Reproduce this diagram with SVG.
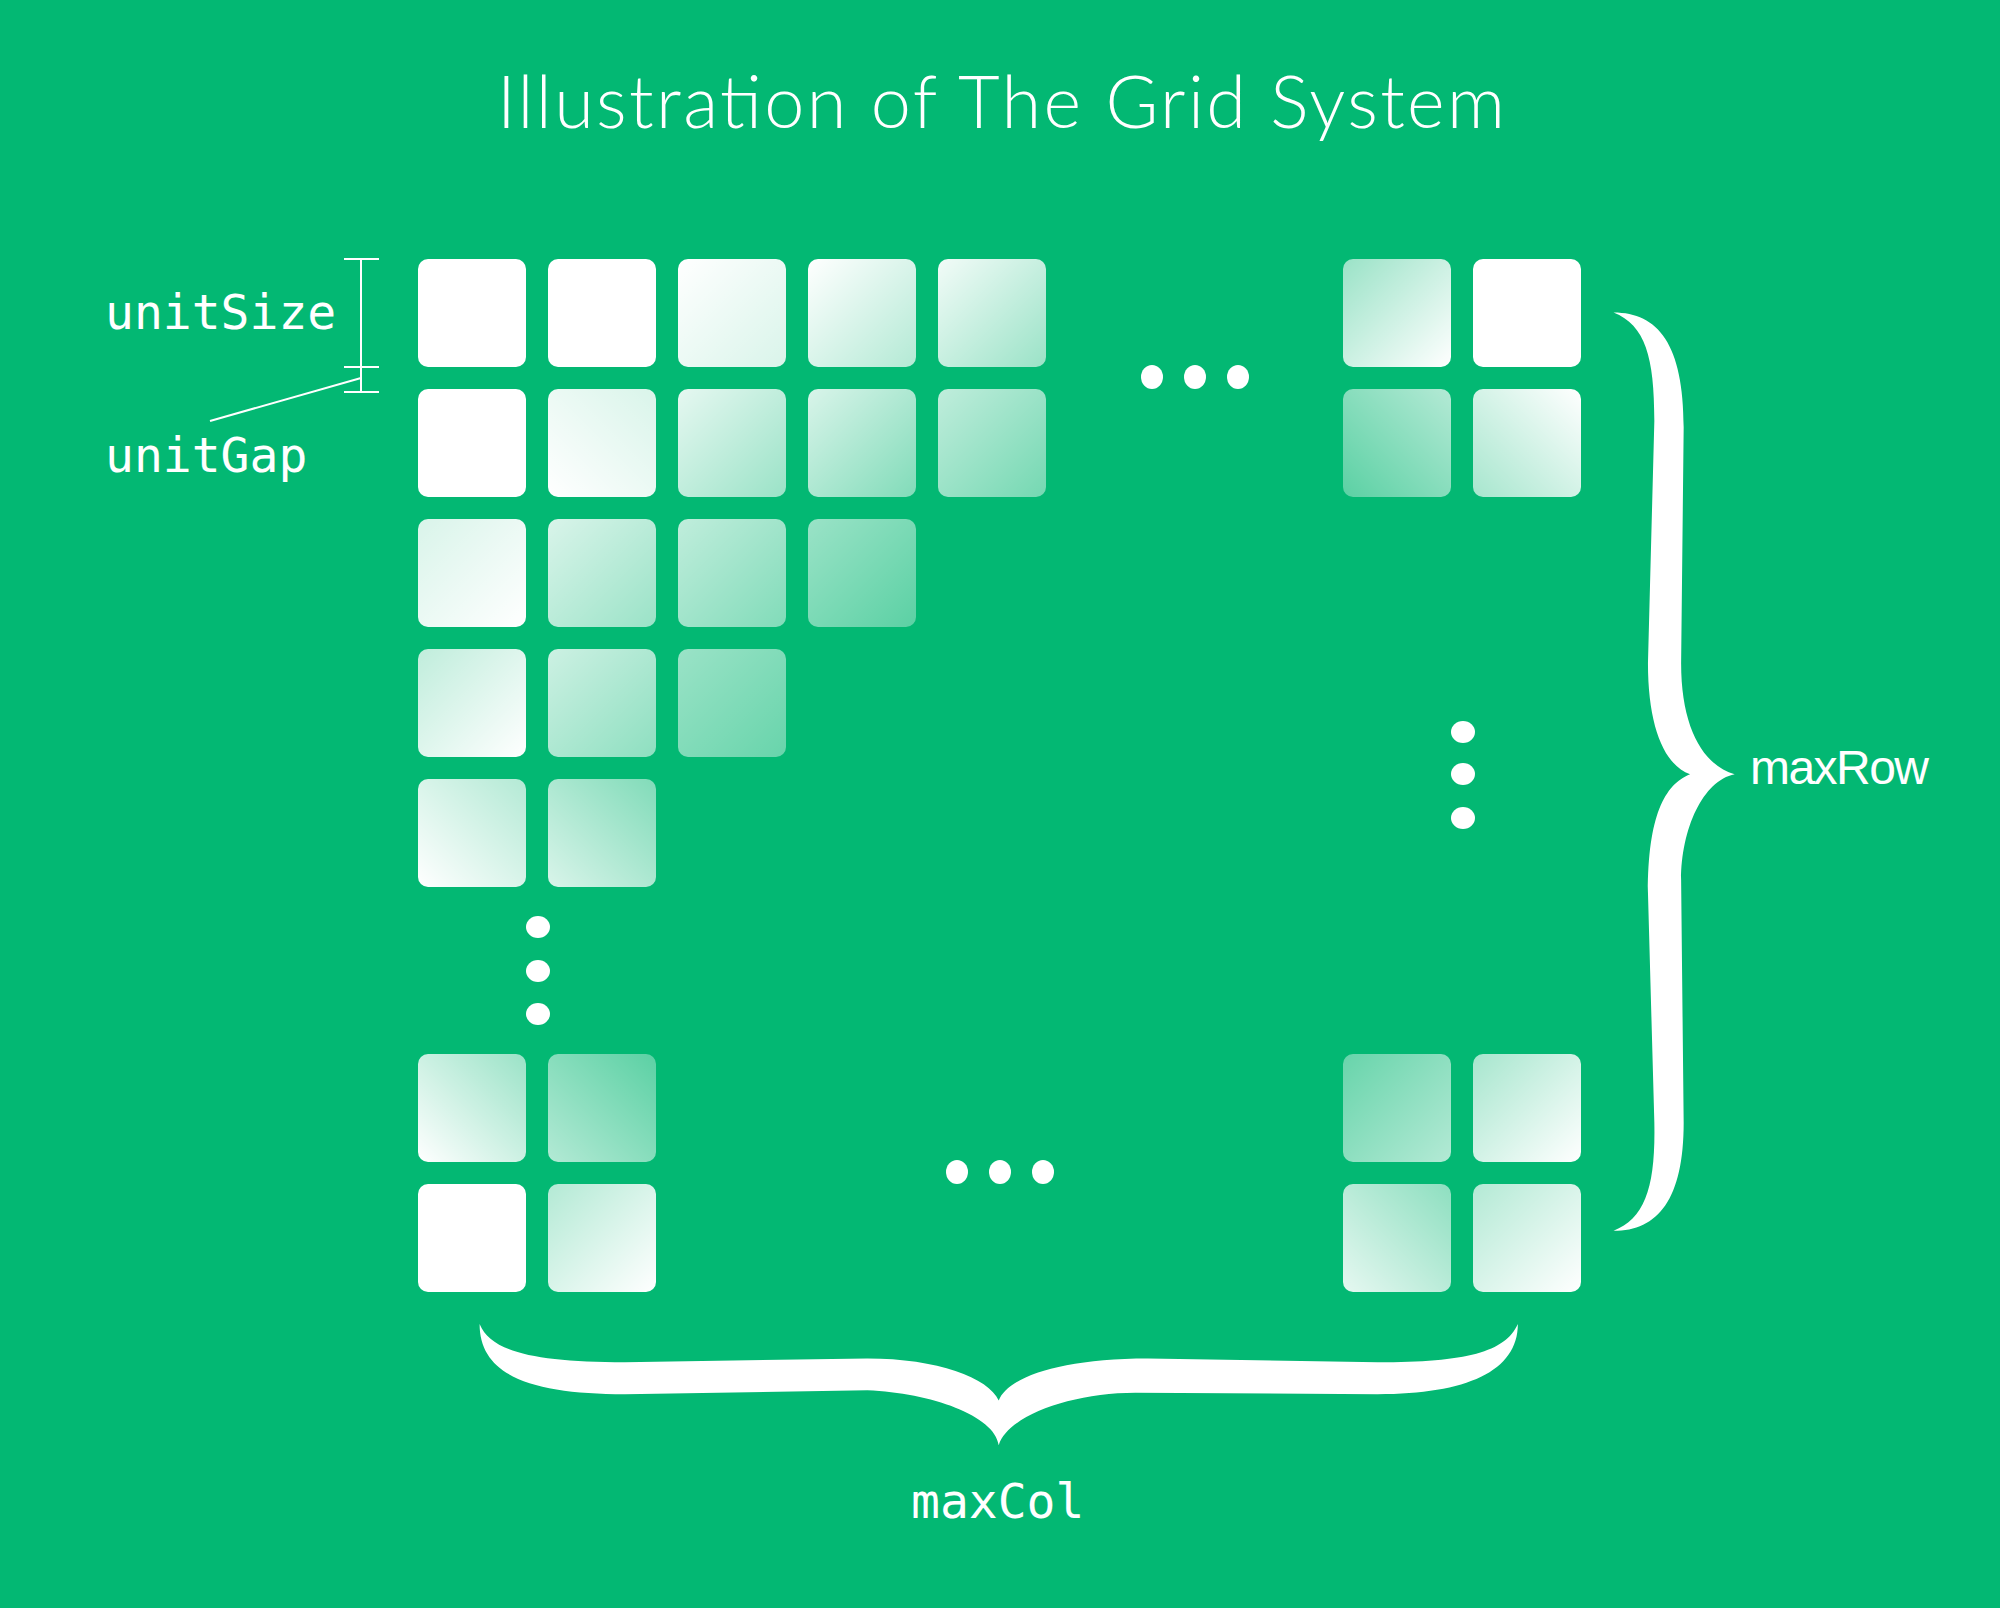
<svg xmlns="http://www.w3.org/2000/svg" width="2000" height="1608" viewBox="0 0 2000 1608">
<style>
.mono{font-family:"DejaVu Sans Mono","Liberation Mono",monospace;font-size:48px;fill:#fff}
.dot{fill:#fff}
.ln{stroke:#fff;stroke-width:2;fill:none}
</style>
<defs>
<linearGradient id="g02" x1="0" y1="0" x2="1" y2="1"><stop offset="0" stop-color="#fff"/><stop offset="1" stop-color="#fff" stop-opacity="0.85"/></linearGradient>
<linearGradient id="g03" x1="0" y1="0" x2="1" y2="1"><stop offset="0" stop-color="#fff"/><stop offset="1" stop-color="#fff" stop-opacity="0.7"/></linearGradient>
<linearGradient id="g04" x1="0" y1="0" x2="1" y2="1"><stop offset="0" stop-color="#fff" stop-opacity="0.95"/><stop offset="1" stop-color="#fff" stop-opacity="0.6"/></linearGradient>
<linearGradient id="g05" x1="1" y1="1" x2="0" y2="0"><stop offset="0" stop-color="#fff"/><stop offset="1" stop-color="#fff" stop-opacity="0.6"/></linearGradient>
<linearGradient id="g11" x1="0" y1="1" x2="1" y2="0"><stop offset="0" stop-color="#fff"/><stop offset="1" stop-color="#fff" stop-opacity="0.85"/></linearGradient>
<linearGradient id="g12" x1="0" y1="0" x2="1" y2="1"><stop offset="0" stop-color="#fff" stop-opacity="0.9"/><stop offset="1" stop-color="#fff" stop-opacity="0.6"/></linearGradient>
<linearGradient id="g13" x1="0" y1="0" x2="1" y2="1"><stop offset="0" stop-color="#fff" stop-opacity="0.85"/><stop offset="1" stop-color="#fff" stop-opacity="0.5"/></linearGradient>
<linearGradient id="g14" x1="0" y1="0" x2="1" y2="1"><stop offset="0" stop-color="#fff" stop-opacity="0.75"/><stop offset="1" stop-color="#fff" stop-opacity="0.45"/></linearGradient>
<linearGradient id="g15" x1="1" y1="0" x2="0" y2="1"><stop offset="0" stop-color="#fff" stop-opacity="0.7"/><stop offset="1" stop-color="#fff" stop-opacity="0.35"/></linearGradient>
<linearGradient id="g16" x1="1" y1="0" x2="0" y2="1"><stop offset="0" stop-color="#fff"/><stop offset="1" stop-color="#fff" stop-opacity="0.65"/></linearGradient>
<linearGradient id="g20" x1="1" y1="1" x2="0" y2="0"><stop offset="0" stop-color="#fff"/><stop offset="1" stop-color="#fff" stop-opacity="0.85"/></linearGradient>
<linearGradient id="g21" x1="0" y1="0" x2="1" y2="1"><stop offset="0" stop-color="#fff" stop-opacity="0.85"/><stop offset="1" stop-color="#fff" stop-opacity="0.6"/></linearGradient>
<linearGradient id="g22" x1="0" y1="0" x2="1" y2="1"><stop offset="0" stop-color="#fff" stop-opacity="0.75"/><stop offset="1" stop-color="#fff" stop-opacity="0.5"/></linearGradient>
<linearGradient id="g23" x1="0" y1="0" x2="1" y2="1"><stop offset="0" stop-color="#fff" stop-opacity="0.6"/><stop offset="1" stop-color="#fff" stop-opacity="0.35"/></linearGradient>
<linearGradient id="g30" x1="1" y1="1" x2="0" y2="0"><stop offset="0" stop-color="#fff"/><stop offset="1" stop-color="#fff" stop-opacity="0.75"/></linearGradient>
<linearGradient id="g31" x1="0" y1="0" x2="1" y2="1"><stop offset="0" stop-color="#fff" stop-opacity="0.8"/><stop offset="1" stop-color="#fff" stop-opacity="0.55"/></linearGradient>
<linearGradient id="g32" x1="0" y1="0" x2="1" y2="1"><stop offset="0" stop-color="#fff" stop-opacity="0.6"/><stop offset="1" stop-color="#fff" stop-opacity="0.4"/></linearGradient>
<linearGradient id="g40" x1="0" y1="1" x2="1" y2="0"><stop offset="0" stop-color="#fff"/><stop offset="1" stop-color="#fff" stop-opacity="0.7"/></linearGradient>
<linearGradient id="g41" x1="0" y1="1" x2="1" y2="0"><stop offset="0" stop-color="#fff" stop-opacity="0.85"/><stop offset="1" stop-color="#fff" stop-opacity="0.5"/></linearGradient>
<linearGradient id="g50" x1="0" y1="1" x2="1" y2="0"><stop offset="0" stop-color="#fff"/><stop offset="1" stop-color="#fff" stop-opacity="0.6"/></linearGradient>
<linearGradient id="g51" x1="0" y1="1" x2="1" y2="0"><stop offset="0" stop-color="#fff" stop-opacity="0.7"/><stop offset="1" stop-color="#fff" stop-opacity="0.35"/></linearGradient>
<linearGradient id="g55" x1="1" y1="1" x2="0" y2="0"><stop offset="0" stop-color="#fff" stop-opacity="0.7"/><stop offset="1" stop-color="#fff" stop-opacity="0.4"/></linearGradient>
<linearGradient id="g56" x1="1" y1="1" x2="0" y2="0"><stop offset="0" stop-color="#fff"/><stop offset="1" stop-color="#fff" stop-opacity="0.65"/></linearGradient>
<linearGradient id="g61" x1="1" y1="1" x2="0" y2="0"><stop offset="0" stop-color="#fff"/><stop offset="1" stop-color="#fff" stop-opacity="0.7"/></linearGradient>
<linearGradient id="g65" x1="0" y1="1" x2="1" y2="0"><stop offset="0" stop-color="#fff" stop-opacity="0.9"/><stop offset="1" stop-color="#fff" stop-opacity="0.55"/></linearGradient>
</defs>
<rect width="2000" height="1608" fill="#03b873"/>
<text x="1001" y="128" text-anchor="middle" font-family="Lato, 'Open Sans', sans-serif" font-weight="300" font-size="72" fill="#fff" textLength="1008">Illustration of The Grid System</text>
<g id="grid">
<rect x="418" y="259" width="108" height="108" rx="10" fill="#fff"/>
<rect x="548" y="259" width="108" height="108" rx="10" fill="#fff"/>
<rect x="678" y="259" width="108" height="108" rx="10" fill="url(#g02)"/>
<rect x="808" y="259" width="108" height="108" rx="10" fill="url(#g03)"/>
<rect x="938" y="259" width="108" height="108" rx="10" fill="url(#g04)"/>
<rect x="1343" y="259" width="108" height="108" rx="10" fill="url(#g05)"/>
<rect x="1473" y="259" width="108" height="108" rx="10" fill="#fff"/>
<rect x="418" y="389" width="108" height="108" rx="10" fill="#fff"/>
<rect x="548" y="389" width="108" height="108" rx="10" fill="url(#g11)"/>
<rect x="678" y="389" width="108" height="108" rx="10" fill="url(#g12)"/>
<rect x="808" y="389" width="108" height="108" rx="10" fill="url(#g13)"/>
<rect x="938" y="389" width="108" height="108" rx="10" fill="url(#g14)"/>
<rect x="1343" y="389" width="108" height="108" rx="10" fill="url(#g15)"/>
<rect x="1473" y="389" width="108" height="108" rx="10" fill="url(#g16)"/>
<rect x="418" y="519" width="108" height="108" rx="10" fill="url(#g20)"/>
<rect x="548" y="519" width="108" height="108" rx="10" fill="url(#g21)"/>
<rect x="678" y="519" width="108" height="108" rx="10" fill="url(#g22)"/>
<rect x="808" y="519" width="108" height="108" rx="10" fill="url(#g23)"/>
<rect x="418" y="649" width="108" height="108" rx="10" fill="url(#g30)"/>
<rect x="548" y="649" width="108" height="108" rx="10" fill="url(#g31)"/>
<rect x="678" y="649" width="108" height="108" rx="10" fill="url(#g32)"/>
<rect x="418" y="779" width="108" height="108" rx="10" fill="url(#g40)"/>
<rect x="548" y="779" width="108" height="108" rx="10" fill="url(#g41)"/>
<rect x="418" y="1054" width="108" height="108" rx="10" fill="url(#g50)"/>
<rect x="548" y="1054" width="108" height="108" rx="10" fill="url(#g51)"/>
<rect x="1343" y="1054" width="108" height="108" rx="10" fill="url(#g55)"/>
<rect x="1473" y="1054" width="108" height="108" rx="10" fill="url(#g56)"/>
<rect x="418" y="1184" width="108" height="108" rx="10" fill="#fff"/>
<rect x="548" y="1184" width="108" height="108" rx="10" fill="url(#g61)"/>
<rect x="1343" y="1184" width="108" height="108" rx="10" fill="url(#g65)"/>
<rect x="1473" y="1184" width="108" height="108" rx="10" fill="url(#g61)"/>
</g>
<g id="dots">
<ellipse class="dot" cx="1152" cy="377" rx="11" ry="12"/><ellipse class="dot" cx="1195" cy="377" rx="11" ry="12"/><ellipse class="dot" cx="1238" cy="377" rx="11" ry="12"/>
<ellipse class="dot" cx="1463" cy="732" rx="12" ry="11"/><ellipse class="dot" cx="1463" cy="774" rx="12" ry="11"/><ellipse class="dot" cx="1463" cy="818" rx="12" ry="11"/>
<ellipse class="dot" cx="538" cy="927" rx="12" ry="11"/><ellipse class="dot" cx="538" cy="971" rx="12" ry="11"/><ellipse class="dot" cx="538" cy="1014" rx="12" ry="11"/>
<ellipse class="dot" cx="957" cy="1172" rx="11" ry="12"/><ellipse class="dot" cx="1000" cy="1172" rx="11" ry="12"/><ellipse class="dot" cx="1043" cy="1172" rx="11" ry="12"/>
</g>
<g id="connectors">
<path class="ln" d="M361 259V392M344 259H379M344 367H379M344 392H379M210 421L361 378"/>
<g transform="scale(1.27551)" fill="#fff">
<path d="M1265,245 C1300,245 1320,270 1320,335 L1318,520 C1318,570 1335,600 1360,607 C1335,612 1318,650 1318,690 L1320,880 C1320,940 1300,965 1265,965 C1290,955 1298,930 1297,880 L1292,700 C1292,640 1305,615 1325,607 C1305,600 1292,570 1292,520 L1297,330 C1297,280 1290,255 1265,245 Z"/>
<path d="M376,1038 C376,1080 420,1093 490,1093 L680,1090 C730,1092 780,1110 783,1133 C790,1110 840,1092 890,1092 L1080,1093 C1150,1093 1190,1075 1190,1038 C1180,1060 1150,1068 1080,1068 L900,1065 C830,1065 790,1080 783,1098 C775,1080 735,1065 680,1065 L490,1068 C420,1068 385,1060 376,1038 Z"/>
</g>
</g>
<g id="labels">
<text class="mono" x="105" y="329">unitSize</text>
<text class="mono" x="105" y="472">unitGap</text>
<text class="mono" x="911" y="1518">maxCol</text>
<text x="1750" y="784" font-family="'Liberation Sans Narrow','Liberation Sans',sans-serif" font-size="48" fill="#fff" textLength="179">maxRow</text>
</g>
</svg>
